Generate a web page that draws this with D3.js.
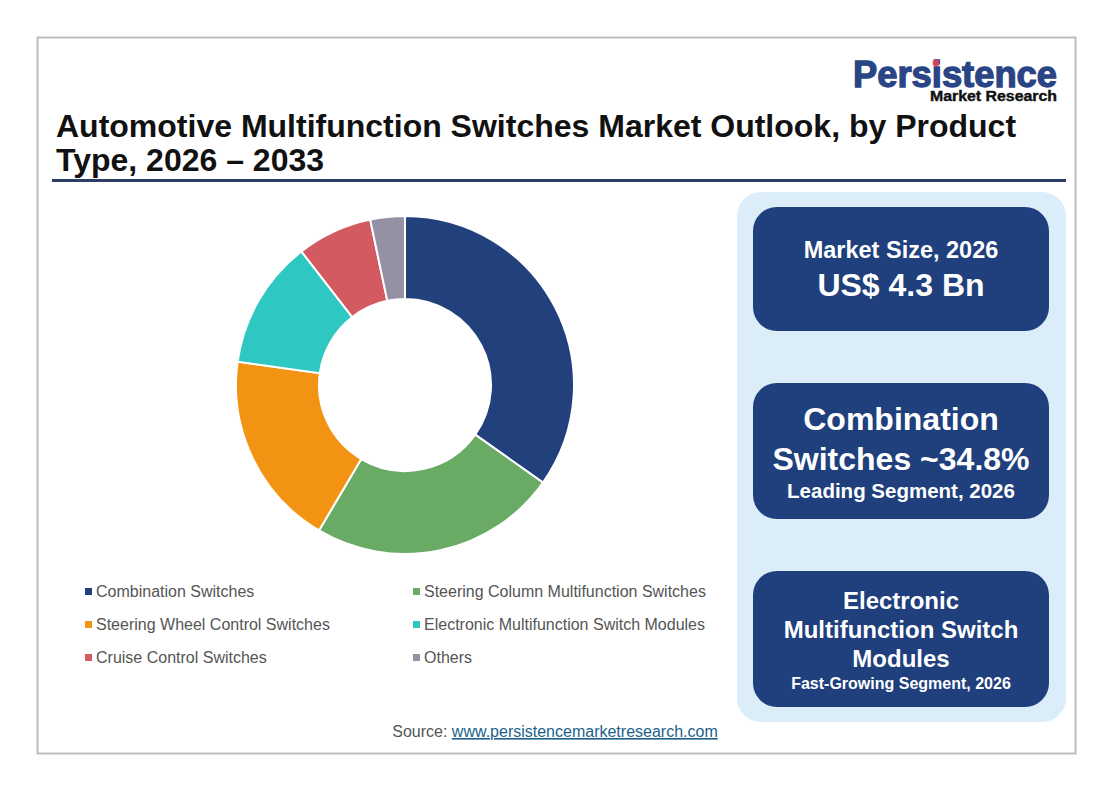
<!DOCTYPE html>
<html>
<head>
<meta charset="utf-8">
<script src="https://cdn.jsdelivr.net/npm/d3@7"></script>
<style>
  body { margin: 0; background: #fff; font-family: "Liberation Sans", Arial, sans-serif; }
</style>
</head>
<body>
<div class="canvas"></div>
<script>
// chart data
const categories = [
  'Combination Switches',
  'Steering Column Multifunction Switches',
  'Steering Wheel Control Switches',
  'Electronic Multifunction Switch Modules',
  'Cruise Control Switches',
  'Others'
];
const shares = [34.8, 23.7, 18.7, 12.3, 7.2, 3.3];
const colors = ['#22417c', '#69aa65', '#f39314', '#2fc7c2', '#d45a62', '#9690a5'];

// svg setup
const dims = { width: 1112, height: 792 };
const svg = d3.select('.canvas')
  .append('svg')
  .attr('width', dims.width)
  .attr('height', dims.height)
  .style('font-family', '"Liberation Sans", Arial, sans-serif');

// outer frame
svg.append('rect')
  .attr('x', 37.5).attr('y', 37.5)
  .attr('width', 1038).attr('height', 716)
  .attr('fill', '#fff')
  .attr('stroke', '#bdbdbd')
  .attr('stroke-width', 2);

// logo
svg.append('text')
  .attr('x', 1057).attr('y', 87)
  .attr('text-anchor', 'end')
  .attr('font-size', 36)
  .attr('font-weight', 'bold')
  .attr('fill', '#2a4586')
  .attr('stroke', '#2a4586')
  .attr('stroke-width', 1.3)
  .attr('textLength', 204)
  .attr('lengthAdjust', 'spacingAndGlyphs')
  .text('Persistence');
svg.append('circle')
  .attr('cx', 936).attr('cy', 63)
  .attr('r', 3.4)
  .attr('fill', '#d8415a');
svg.append('text')
  .attr('x', 1057).attr('y', 101)
  .attr('text-anchor', 'end')
  .attr('font-size', 14)
  .attr('font-weight', 'bold')
  .attr('fill', '#111')
  .attr('stroke', '#111')
  .attr('stroke-width', 0.4)
  .attr('textLength', 127)
  .attr('lengthAdjust', 'spacingAndGlyphs')
  .text('Market Research');

// title
const title = svg.append('text')
  .attr('font-size', 32)
  .attr('font-weight', 'bold')
  .attr('fill', '#111');
title.append('tspan').attr('x', 56).attr('y', 137)
  .text('Automotive Multifunction Switches Market Outlook, by Product');
title.append('tspan').attr('x', 56).attr('y', 171)
  .text('Type, 2026 – 2033');

svg.append('rect')
  .attr('x', 52).attr('y', 179)
  .attr('width', 1014).attr('height', 3)
  .attr('fill', '#2d3f66');

// donut
const pie = d3.pie().sort(null).value(d => d);
const arc = d3.arc().innerRadius(86).outerRadius(169);
const donut = svg.append('g')
  .attr('transform', 'translate(405,385)');
donut.selectAll('path')
  .data(pie(shares))
  .enter()
  .append('path')
  .attr('d', arc)
  .attr('fill', (d, i) => colors[i])
  .attr('stroke', '#fff')
  .attr('stroke-width', 2);

// legend (two columns)
const legItems = svg.append('g')
  .selectAll('g')
  .data(categories)
  .enter()
  .append('g')
  .attr('transform', (d, i) => `translate(${i % 2 === 0 ? 85 : 413}, ${591 + Math.floor(i / 2) * 33})`);
legItems.append('rect')
  .attr('x', 0).attr('y', -3)
  .attr('width', 7).attr('height', 7)
  .attr('fill', (d, i) => colors[i]);
legItems.append('text')
  .attr('x', 11).attr('y', 6)
  .attr('font-size', 16)
  .attr('fill', '#555')
  .text(d => d);

// right panel
svg.append('rect')
  .attr('x', 737).attr('y', 192)
  .attr('width', 329).attr('height', 530)
  .attr('rx', 24)
  .attr('fill', '#dcedfa');

const boxes = [
  { y: 207, h: 124, lines: [
    { t: 'Market Size, 2026', s: 23.5, y: 258 },
    { t: 'US$ 4.3 Bn', s: 32, y: 296 }
  ]},
  { y: 383, h: 136, lines: [
    { t: 'Combination', s: 32, y: 430 },
    { t: 'Switches ~34.8%', s: 32, y: 470 },
    { t: 'Leading Segment, 2026', s: 20.5, y: 498 }
  ]},
  { y: 571, h: 136, lines: [
    { t: 'Electronic', s: 24, y: 609 },
    { t: 'Multifunction Switch', s: 24, y: 638 },
    { t: 'Modules', s: 24, y: 667 },
    { t: 'Fast-Growing Segment, 2026', s: 16, y: 689 }
  ]}
];
boxes.forEach(b => {
  svg.append('rect')
    .attr('x', 753).attr('y', b.y)
    .attr('width', 296).attr('height', b.h)
    .attr('rx', 24)
    .attr('fill', '#1f3f7d');
  b.lines.forEach(l => {
    svg.append('text')
      .attr('x', 901).attr('y', l.y)
      .attr('text-anchor', 'middle')
      .attr('font-size', l.s)
      .attr('font-weight', 'bold')
      .attr('fill', '#fff')
      .text(l.t);
  });
});

// source
const src = svg.append('text')
  .attr('x', 555).attr('y', 737)
  .attr('text-anchor', 'middle')
  .attr('font-size', 16);
src.append('tspan').attr('fill', '#555').text('Source: ');
src.append('tspan').attr('fill', '#1b5f8c')
  .attr('text-decoration', 'underline')
  .text('www.persistencemarketresearch.com');
</script>
</body>
</html>
